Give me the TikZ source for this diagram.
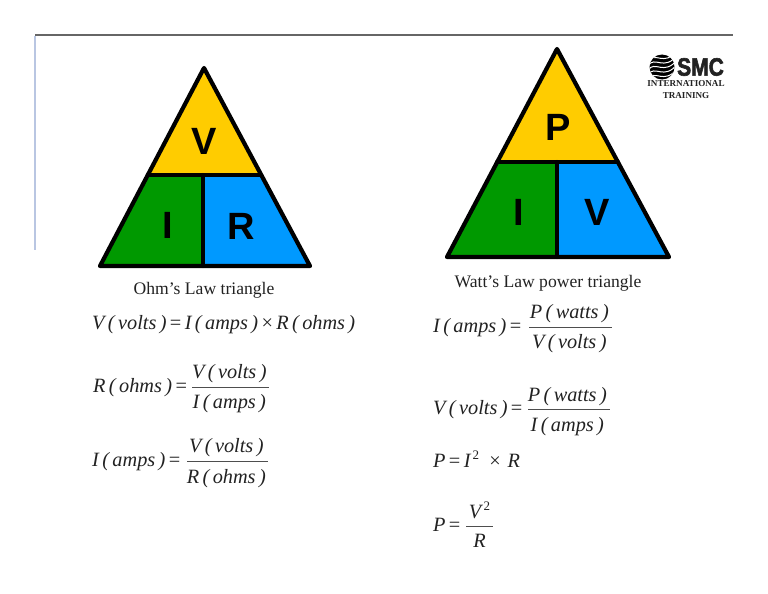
\documentclass[tikz,border=0pt]{standalone}
\usepackage{fontspec}
\setmainfont{Liberation Serif}
\newfontfamily\lsans{Liberation Sans}
\newfontfamily\lheavy[FakeBold=2.5]{Liberation Sans Bold}
\definecolor{triyellow}{HTML}{FFCC00}
\definecolor{trigreen}{HTML}{009900}
\definecolor{triblue}{HTML}{0099FF}
\definecolor{inkdark}{HTML}{222222}
\definecolor{frametop}{HTML}{666666}
\definecolor{frameleft}{HTML}{B9C6E2}
\newcommand{\Pn}[1]{\,(\,#1\,)\,}
\newcommand{\Up}[1]{\textup{#1}}
\tikzset{
  x=1pt,y=-1pt,
  triline/.style={draw=black,line width=4.2pt,line join=round,line cap=round},
  triletter/.style={font=\lsans\bfseries\fontsize{38}{38}\selectfont,inner sep=0pt,anchor=center},
  caption/.style={font=\fontsize{17.6}{18}\selectfont,text=inkdark,inner sep=0pt,anchor=base},
  eqleft/.style={font=\itshape\fontsize{20.3}{21}\selectfont,text=inkdark,inner sep=0pt,anchor=base west},
  eqpart/.style={font=\itshape\fontsize{20.3}{21}\selectfont,text=inkdark,inner sep=0pt,anchor=base},
  fracbar/.style={draw=inkdark!80,line width=1pt},
  logotext/.style={font=\bfseries\fontsize{9.1}{10}\selectfont,text=inkdark,inner sep=0pt,anchor=center},
}
\begin{document}
\begin{tikzpicture}
\useasboundingbox (0,0) rectangle (768,594);
\fill[white] (0,0) rectangle (768,594);
% frame lines
\draw[line width=1.2pt,draw=frameleft] (35,36) -- (35,250);
\draw[line width=1.3pt,draw=frametop] (35,35) -- (733,35);

% Ohm triangle
\fill[triyellow] (204,68) -- (147.8,175) -- (261,175) -- cycle;
\fill[trigreen] (147.8,175) -- (203,175) -- (203,266) -- (100,266) -- cycle;
\fill[triblue] (203,175) -- (261,175) -- (310,266) -- (203,266) -- cycle;
\draw[triline] (204,68) -- (100,266) -- (310,266) -- cycle;
\draw[triline] (147.8,175) -- (261,175);
\draw[triline] (203,175) -- (203,266);
\node[triletter] (ov) at (204,141) {V};
\node[triletter] (oi) at (168,225) {I};
\node[triletter] (or) at (241,226) {R};
\node[caption] (ocap) at (204,294) {Ohm’s Law triangle};

% Watt triangle
\fill[triyellow] (557,49) -- (497,162) -- (618,162) -- cycle;
\fill[trigreen] (497,162) -- (557,162) -- (557,257) -- (447,257) -- cycle;
\fill[triblue] (557,162) -- (618,162) -- (669,257) -- (557,257) -- cycle;
\draw[triline] (557,49) -- (447,257) -- (669,257) -- cycle;
\draw[triline] (497,162) -- (618,162);
\draw[triline] (557,162) -- (557,257);
\node[triletter] (wp) at (558,127) {P};
\node[triletter] (wi) at (519,212) {I};
\node[triletter] (wv) at (597,212) {V};
\node[caption] (wcap) at (548,287) {Watt’s Law power triangle};

% Ohm equations
\node[eqleft] (e1) at (92,329) {V\Pn{volts}\Up{=}\,I\Pn{amps}\Up{×}\,R\Pn{ohms}};
\node[eqleft] (e2) at (93,392) {R\Pn{ohms}\Up{=}};
\node[eqpart] (e2n) at (231,378) {V\Pn{volts}};
\node[eqpart] (e2d) at (231,408) {I\Pn{amps}};
\draw[fracbar] (192,387) -- (269,387);
\node[eqleft] (e3) at (92,466) {I\Pn{amps}\Up{=}};
\node[eqpart] (e3n) at (228,452) {V\Pn{volts}};
\node[eqpart] (e3d) at (228,483) {R\Pn{ohms}};
\draw[fracbar] (187,461) -- (268,461);

% Watt equations
\node[eqleft] (e4) at (433,332) {I\Pn{amps}\Up{=}};
\node[eqpart] (e4n) at (571,318) {P\Pn{watts}};
\node[eqpart] (e4d) at (571,348) {V\Pn{volts}};
\draw[fracbar] (529,327) -- (612,327);
\node[eqleft] (e5) at (433,414) {V\Pn{volts}\Up{=}};
\node[eqpart] (e5n) at (569,401) {P\Pn{watts}};
\node[eqpart] (e5d) at (569,431) {I\Pn{amps}};
\draw[fracbar] (528,409) -- (610,409);
\node[eqleft] (e6) at (433,467) {P\,\Up{=}\,I\raisebox{8pt}{\fontsize{13}{13}\selectfont\,\Up{2}}\,\,\,\Up{×}\,\,R};
\node[eqleft] (e7) at (433,531) {P\,\Up{=}};
\node[eqpart] (e7n) at (479.5,518) {V\raisebox{8pt}{\fontsize{13}{13}\selectfont\,\Up{2}}};
\node[eqpart] (e7d) at (479.5,547) {R};
\draw[fracbar] (466,526) -- (493,526);

% logo
\fill[black] (662,67) circle (12.5);
\begin{scope}
\clip (662,67) circle (12.5);
\foreach \d in {-9,-4.5,0,4.5,9}
  \draw[white,line width=1pt] (648,70+\d) .. controls (655,60+\d) and (664,76+\d) .. (677,60+\d);
\end{scope}
\node[font=\lheavy\fontsize{25}{25}\selectfont,text=inkdark,inner sep=0pt,anchor=center,xscale=0.84] (smc) at (700.5,67) {SMC};
\node[logotext] (lg1) at (686,84) {INTERNATIONAL};
\node[logotext] (lg2) at (686,95.5) {TRAINING};
\end{tikzpicture}
\end{document}
